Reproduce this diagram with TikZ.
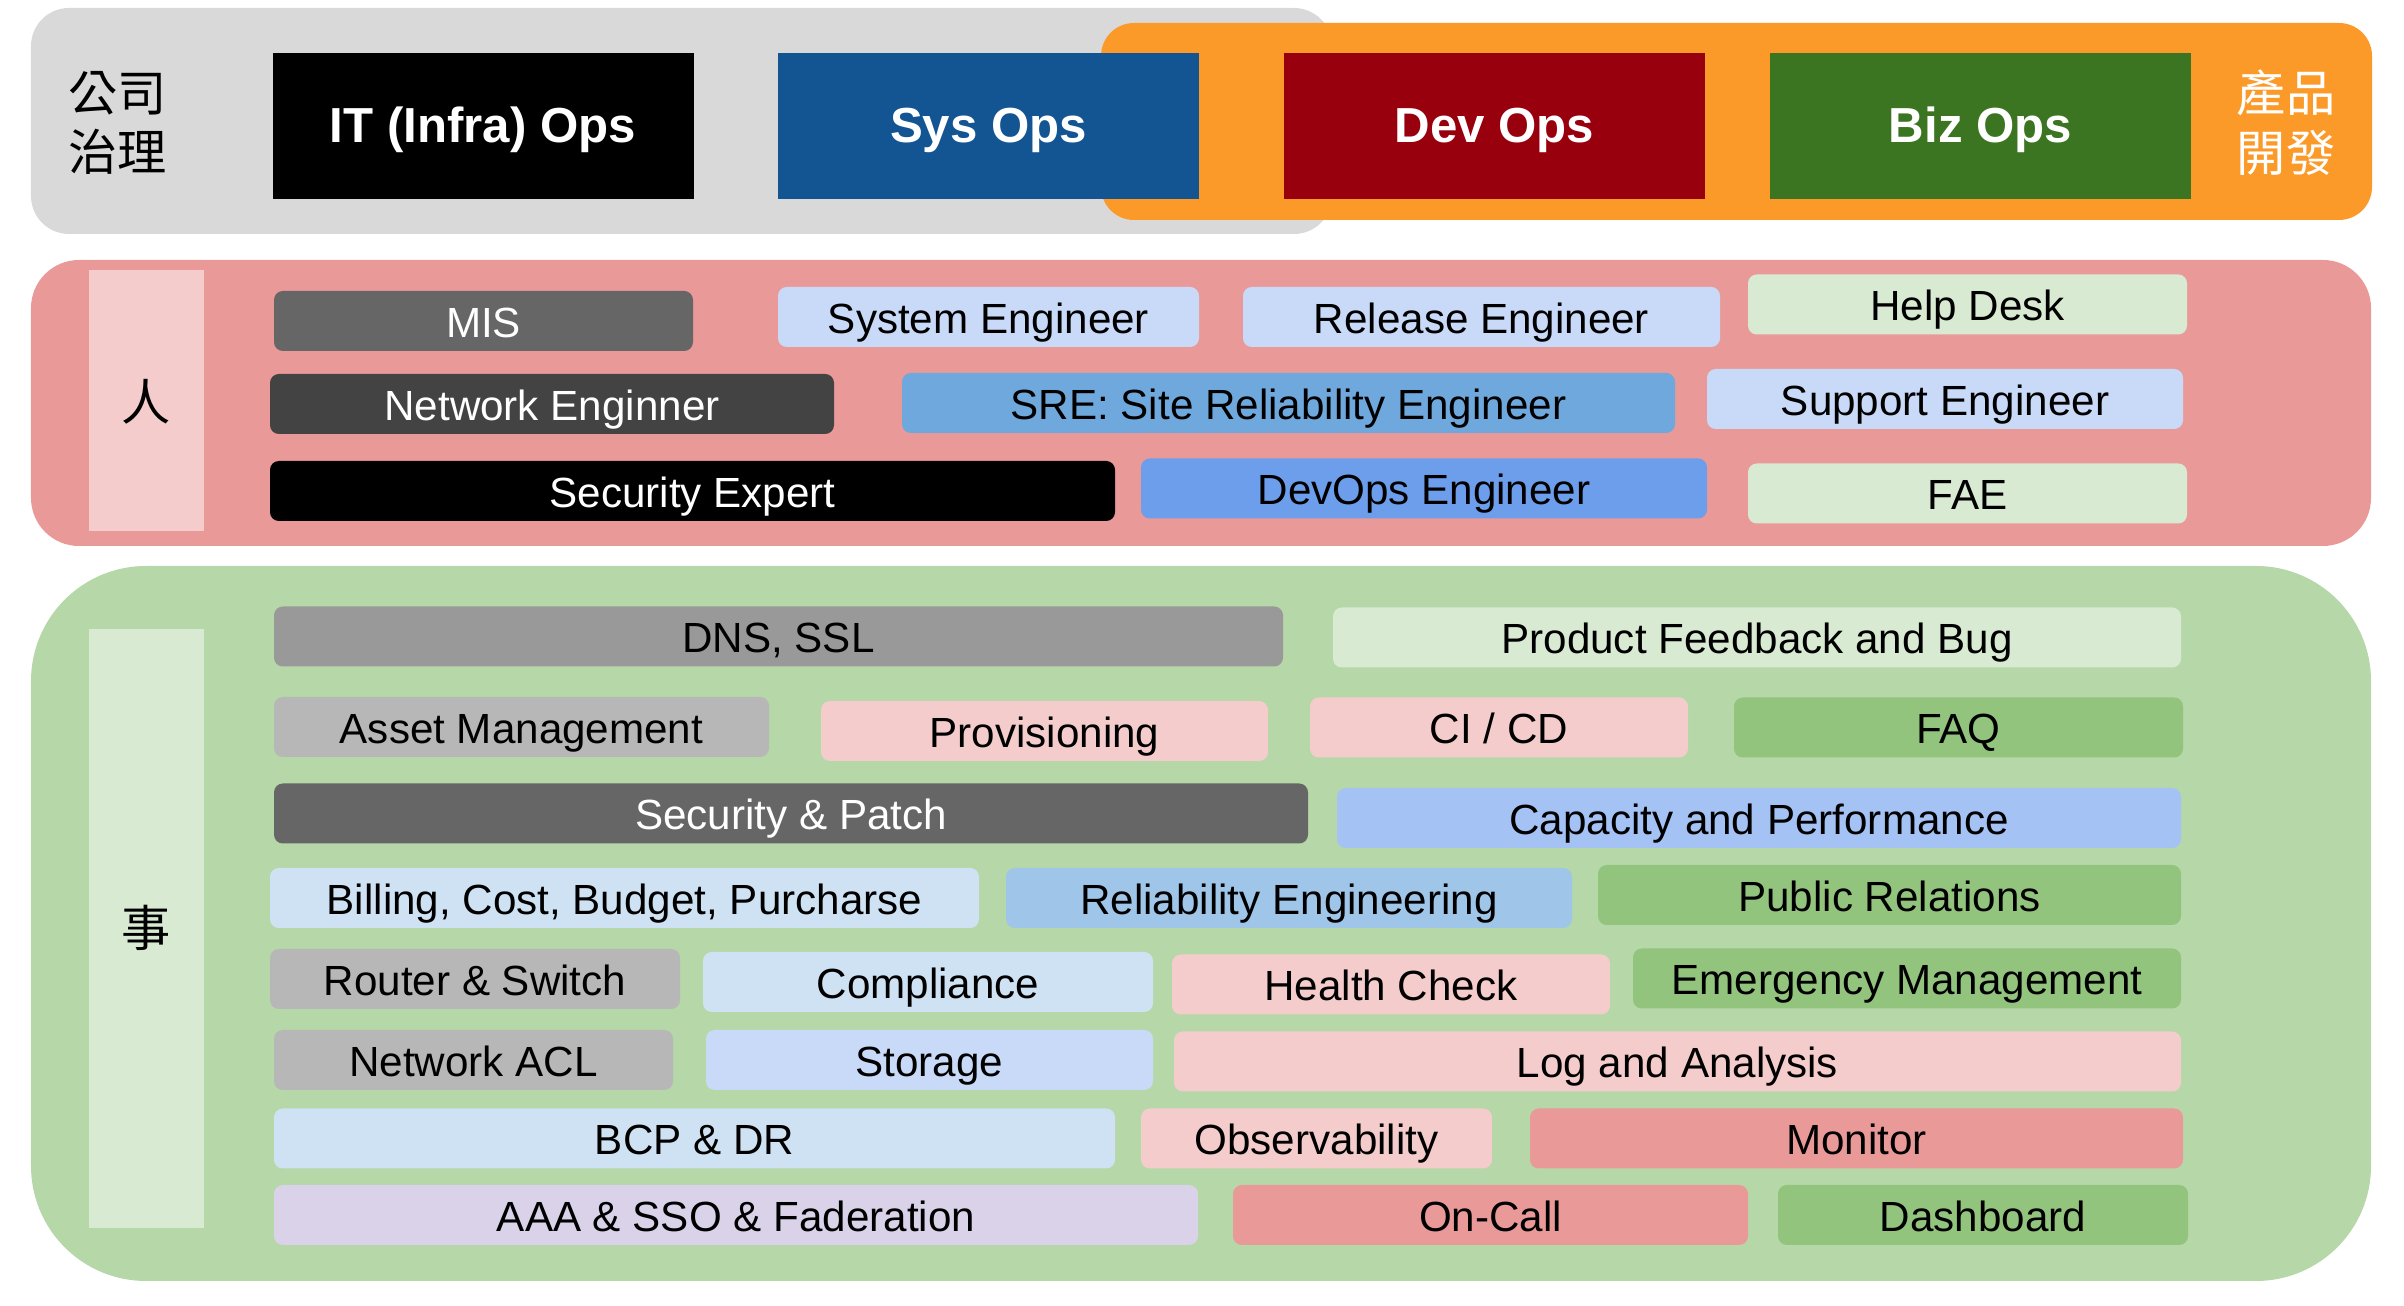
\documentclass[tikz,border=0pt]{standalone}
\usepackage{fontspec}
\setmainfont{Liberation Sans}
\newfontfamily\cjk{Noto Sans CJK TC}
\usepackage{tikz}
\usetikzlibrary{positioning}
\usepackage{xcolor}

\definecolor{govgray}{HTML}{D9D9D9}
\definecolor{prodorange}{HTML}{FC9A29}
\definecolor{sysblue}{HTML}{135493}
\definecolor{devred}{HTML}{98000E}
\definecolor{bizgreen}{HTML}{3C7522}
\definecolor{redlt}{HTML}{EA9999}
\definecolor{redpale}{HTML}{F4CCCC}
\definecolor{greenlt}{HTML}{B6D7A8}
\definecolor{greenpale}{HTML}{D9EAD3}
\definecolor{greenmid}{HTML}{93C47D}
\definecolor{cornpale}{HTML}{C9DAF8}
\definecolor{cornlt}{HTML}{A4C2F4}
\definecolor{cornmid}{HTML}{6D9EEB}
\definecolor{bluepale}{HTML}{CFE2F3}
\definecolor{bluelt}{HTML}{9FC5E8}
\definecolor{bluemid}{HTML}{6FA8DC}
\definecolor{purplepale}{HTML}{D9D2E9}
\definecolor{gray1}{HTML}{999999}
\definecolor{gray0}{HTML}{B7B7B7}
\definecolor{gray2}{HTML}{666666}
\definecolor{gray3}{HTML}{434343}

\begin{document}
\begin{tikzpicture}[
  font=\fontsize{12}{14}\selectfont,
  ops/.style   = {minimum height=1.46cm, minimum width=4.21cm, inner sep=0pt,
                  text height=0.95em, text depth=0pt,
                  text=white, font=\fontsize{14}{16}\selectfont\bfseries},
  tag/.style   = {rounded corners=2.5pt, minimum height=0.60cm, inner sep=0pt,
                  text height=0.93em, text depth=0pt},
  dark/.style  = {tag, text=white},
  side/.style  = {font=\fontsize{14}{17}\selectfont\cjk, align=center},
]
\useasboundingbox (0,0) rectangle (24.04,-13.06);

% ---- governance / product bands --------------------------------------------
\fill[govgray, rounded corners=0.38cm] (0.31,-0.08) rectangle (13.32,-2.34);
\fill[prodorange, rounded corners=0.33cm] (11.01,-0.23) rectangle (23.72,-2.20);

\node[side] (gov)  at (1.18,-1.23) {公司\\治理};
\node[side, text=white] (prod) at (22.86,-1.23) {產品\\開發};

\node[ops, fill=black]     (itops)  at (4.83,-1.26)   {IT (Infra) Ops};
\node[ops, fill=sysblue]   (sysops) at (9.885,-1.26)  {Sys Ops};
\node[ops, fill=devred]    (devops) at (14.945,-1.26) {Dev Ops};
\node[ops, fill=bizgreen]  (bizops) at (19.805,-1.26) {Biz Ops};

% ---- people ----------------------------------------------------------------
\fill[redlt, rounded corners=0.48cm] (0.31,-2.60) rectangle (23.71,-5.46);
\fill[redpale] (0.89,-2.70) rectangle (2.04,-5.31);
\node[side] (people) at (1.465,-4.02) {人};

\node[dark, fill=gray2, minimum width=4.19cm]      (mis)     at (4.835,-3.21)  {MIS};
\node[tag, fill=cornpale, minimum width=4.21cm]    (syseng)  at (9.885,-3.17)  {System Engineer};
\node[tag, fill=cornpale, minimum width=4.77cm]    (releng)  at (14.815,-3.17) {Release Engineer};
\node[tag, fill=greenpale, minimum width=4.39cm]   (helpdsk) at (19.675,-3.045) {Help Desk};

\node[dark, fill=gray3, minimum width=5.64cm]      (neteng)  at (5.52,-4.04)   {Network Enginner};
\node[tag, fill=bluemid, minimum width=7.73cm]     (sre)     at (12.885,-4.03) {SRE: Site Reliability Engineer};
\node[tag, fill=cornpale, minimum width=4.76cm]    (suppeng) at (19.45,-3.99)  {Support Engineer};

\node[dark, fill=black, minimum width=8.45cm]      (secexp)  at (6.925,-4.91)  {Security Expert};
\node[tag, fill=cornmid, minimum width=5.66cm]     (doeng)   at (14.24,-4.885) {DevOps Engineer};
\node[tag, fill=greenpale, minimum width=4.39cm]   (fae)     at (19.675,-4.935) {FAE};

% ---- things ----------------------------------------------------------------
\fill[greenlt, rounded corners=1.15cm] (0.31,-5.66) rectangle (23.71,-12.81);
\fill[greenpale] (0.89,-6.29) rectangle (2.04,-12.28);
\node[side] (things) at (1.465,-9.28) {事};

\node[tag, fill=gray1, minimum width=10.09cm]      (dns)     at (7.785,-6.365) {DNS, SSL};
\node[tag, fill=greenpale, minimum width=8.48cm]   (feedbk)  at (17.57,-6.375) {Product Feedback and Bug};

\node[tag, fill=gray0, minimum width=4.95cm]       (asset)   at (5.215,-7.27)  {Asset Management};
\node[tag, fill=redpale, minimum width=4.47cm]     (prov)    at (10.445,-7.31) {Provisioning};
\node[tag, fill=redpale, minimum width=3.78cm]     (cicd)    at (14.99,-7.275) {CI / CD};
\node[tag, fill=greenmid, minimum width=4.49cm]    (faq)     at (19.585,-7.275) {FAQ};

\node[dark, fill=gray2, minimum width=10.34cm]     (patch)   at (7.91,-8.135)  {Security \& Patch};
\node[tag, fill=cornlt, minimum width=8.44cm]      (capa)    at (17.59,-8.18)  {Capacity and Performance};

\node[tag, fill=bluepale, minimum width=7.09cm]    (billing) at (6.245,-8.98)  {Billing, Cost, Budget, Purcharse};
\node[tag, fill=bluelt, minimum width=5.66cm]      (relieng) at (12.89,-8.98)  {Reliability Engineering};
\node[tag, fill=greenmid, minimum width=5.83cm]    (pr)      at (18.895,-8.95) {Public Relations};

\node[tag, fill=gray0, minimum width=4.10cm]       (router)  at (4.75,-9.79)   {Router \& Switch};
\node[tag, fill=bluepale, minimum width=4.50cm]    (compl)   at (9.28,-9.82)   {Compliance};
\node[tag, fill=redpale, minimum width=4.38cm]     (health)  at (13.91,-9.845) {Health Check};
\node[tag, fill=greenmid, minimum width=5.48cm]    (emerg)   at (19.07,-9.785) {Emergency Management};

\node[tag, fill=gray0, minimum width=3.99cm]       (acl)     at (4.735,-10.60) {Network ACL};
\node[tag, fill=cornpale, minimum width=4.47cm]    (storage) at (9.295,-10.60) {Storage};
\node[tag, fill=redpale, minimum width=10.07cm]    (logs)    at (16.775,-10.615) {Log and Analysis};

\node[tag, fill=bluepale, minimum width=8.41cm]    (bcp)     at (6.945,-11.385) {BCP \& DR};
\node[tag, fill=redpale, minimum width=3.51cm]     (observ)  at (13.165,-11.385) {Observability};
\node[tag, fill=redlt, minimum width=6.53cm]       (monitor) at (18.565,-11.385) {Monitor};

\node[tag, fill=purplepale, minimum width=9.24cm]  (aaa)     at (7.36,-12.15)  {AAA \& SSO \& Faderation};
\node[tag, fill=redlt, minimum width=5.15cm]       (oncall)  at (14.905,-12.15) {On-Call};
\node[tag, fill=greenmid, minimum width=4.10cm]    (dash)    at (19.83,-12.15)  {Dashboard};

\end{tikzpicture}
\end{document}
